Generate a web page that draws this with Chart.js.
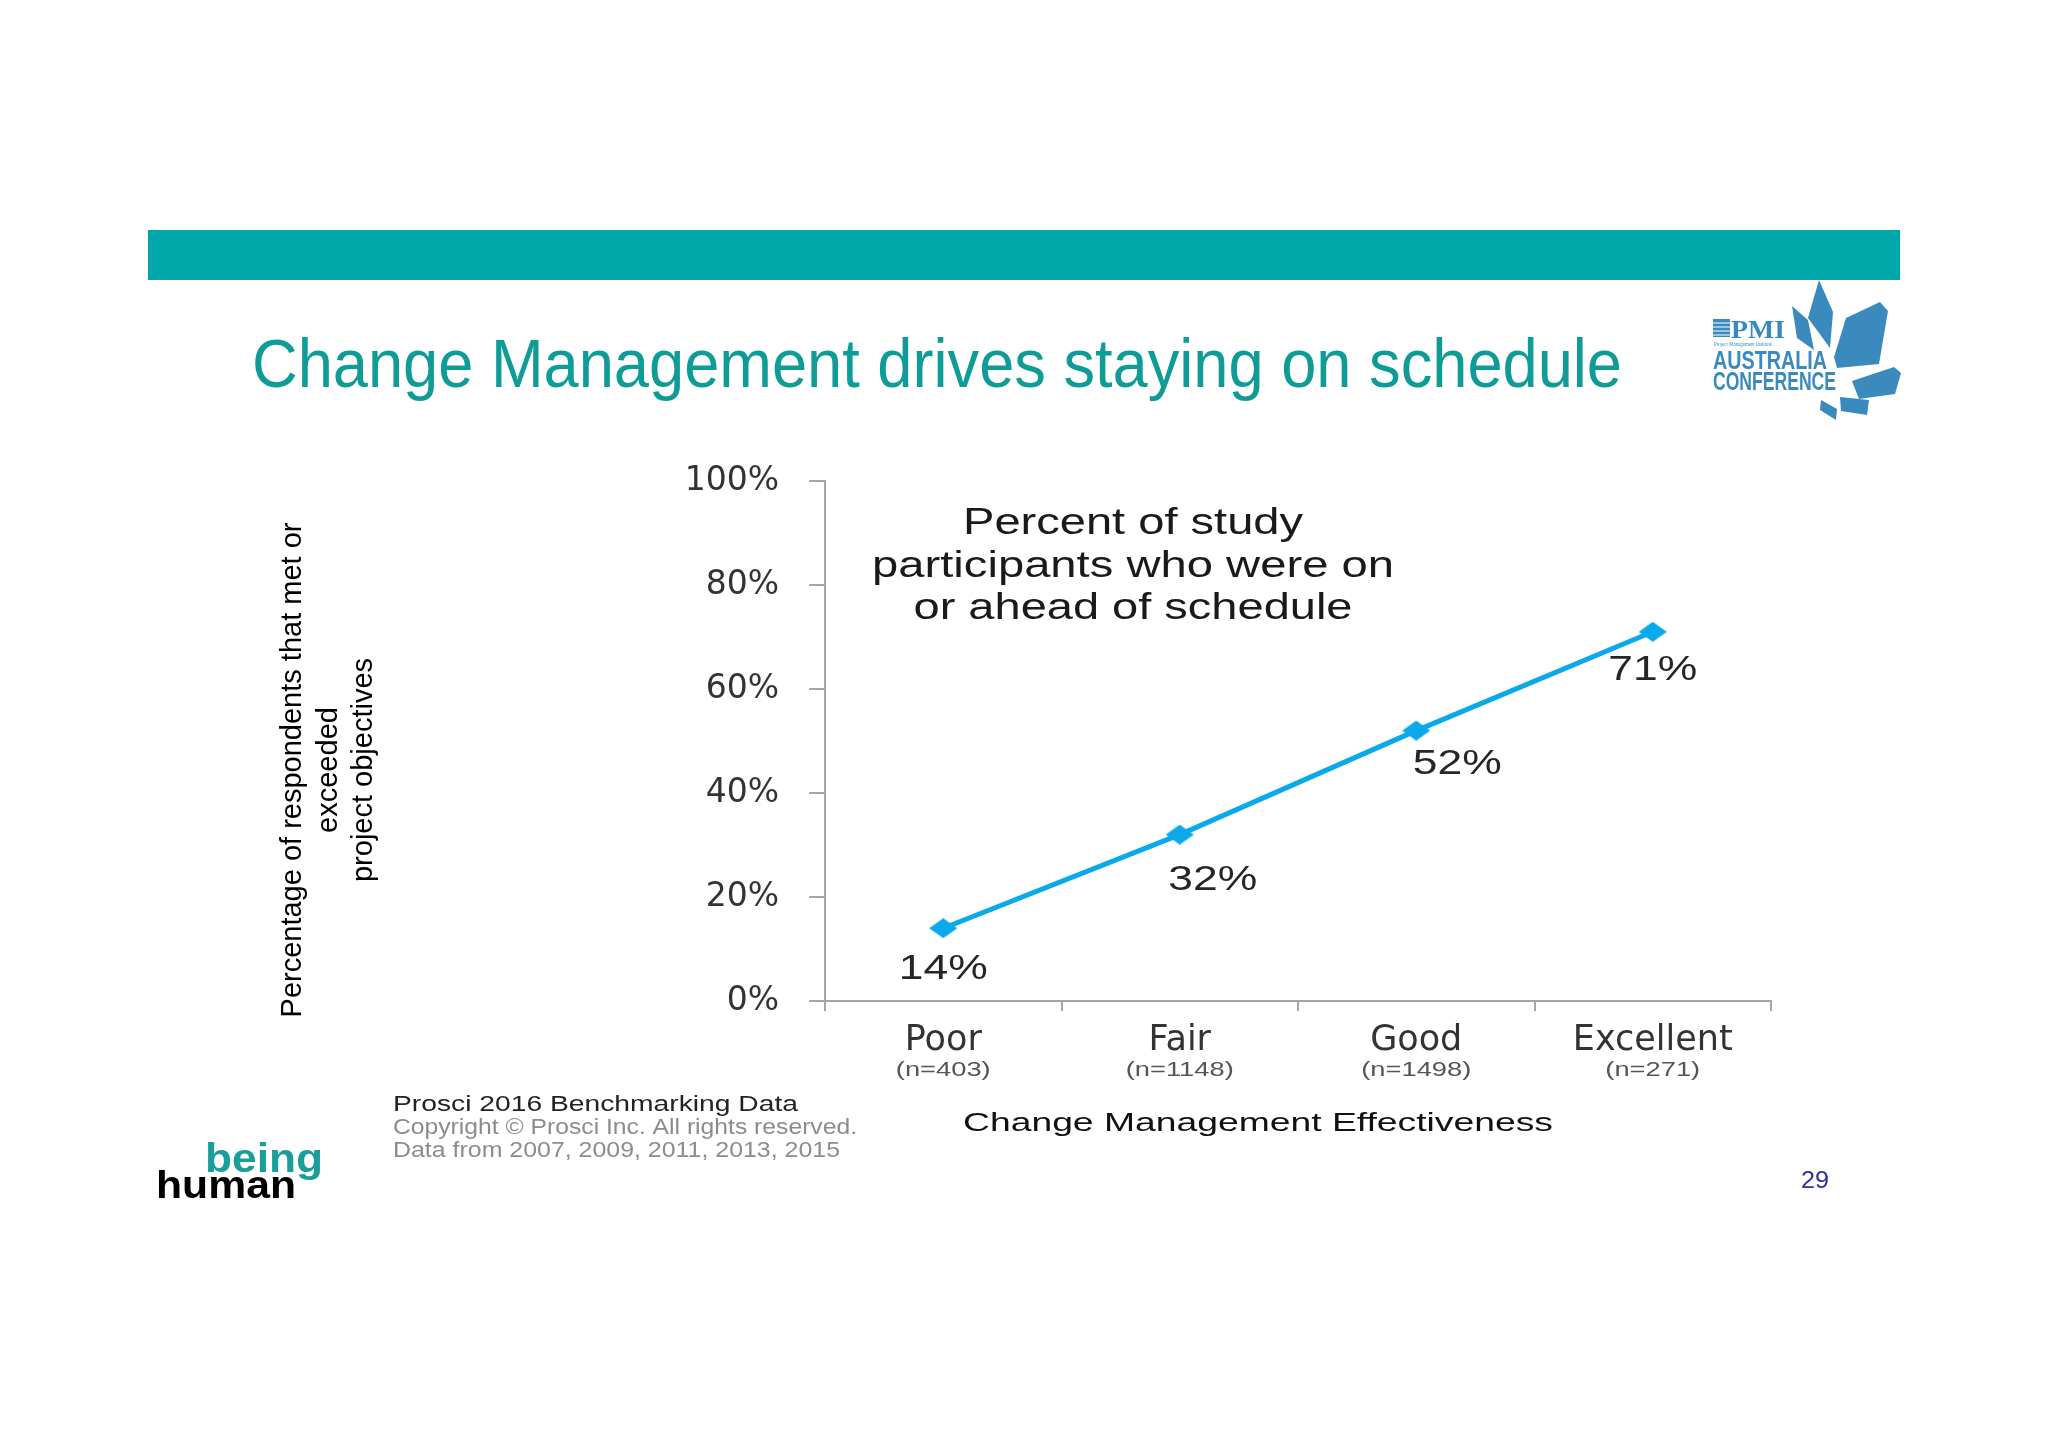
<!DOCTYPE html>
<html>
<head>
<meta charset="utf-8">
<title>Change Management drives staying on schedule</title>
<script src="https://cdn.jsdelivr.net/npm/chart.js@4.4.1/dist/chart.umd.min.js"></script>
<style>
  html, body { margin: 0; padding: 0; background: #fff; }
  canvas { display: block; }
</style>
</head>
<body>
<canvas id="chart" width="2048" height="1447"></canvas>
<script>
const categories = ["Poor", "Fair", "Good", "Excellent"];
const sampleSizes = ["(n=403)", "(n=1148)", "(n=1498)", "(n=271)"];
const onSchedule = [14, 32, 52, 71];
const yTickValues = [0, 20, 40, 60, 80, 100];

const boxLines = ["Percent of study", "participants who were on", "or ahead of schedule"];
const yTitleLines = ["Percentage of respondents that met or", "exceeded", "project objectives"];
const sourceLines = [
  "Prosci 2016 Benchmarking Data",
  "Copyright \u00A9 Prosci Inc. All rights reserved.",
  "Data from 2007, 2009, 2011, 2013, 2015"
];

// where each value label sits relative to its point (px)
const labelShift = [[0, 51], [33, 55], [41, 43], [0, 48]];

const TEAL = "#00a7a8";
const TITLE_TEAL = "#0f9c97";
const LINE = "#0aa9e9";
const AXIS = "#a6a6a6";
const LOGO = "#3b8abd";

function diamond(w, h, color) {
  const c = document.createElement("canvas");
  c.width = w;
  c.height = h;
  const g = c.getContext("2d");
  g.fillStyle = color;
  g.beginPath();
  g.moveTo(w / 2, 0);
  g.lineTo(w, h / 2);
  g.lineTo(w / 2, h);
  g.lineTo(0, h / 2);
  g.closePath();
  g.fill();
  return c;
}

// draws text, optionally squeezed/stretched to a given width
function text(ctx, str, x, y, o) {
  ctx.save();
  ctx.font = o.font;
  ctx.fillStyle = o.color || "#000";
  ctx.textBaseline = o.baseline || "alphabetic";
  ctx.textAlign = o.align || "left";
  let sx = o.sx || 1;
  if (o.width) sx = o.width / ctx.measureText(str).width;
  ctx.translate(x, y);
  if (o.rotate) ctx.rotate(o.rotate);
  ctx.scale(sx, 1);
  ctx.fillText(str, 0, 0);
  ctx.restore();
}

function poly(ctx, pts, color) {
  ctx.fillStyle = color;
  ctx.beginPath();
  pts.forEach((p, i) => (i ? ctx.lineTo(p[0], p[1]) : ctx.moveTo(p[0], p[1])));
  ctx.closePath();
  ctx.fill();
}

const slide = {
  id: "slide",
  beforeDraw(chart) {
    const ctx = chart.ctx;
    ctx.save();
    ctx.fillStyle = "#fff";
    ctx.fillRect(0, 0, chart.width, chart.height);

    ctx.fillStyle = TEAL;
    ctx.fillRect(148, 230, 1752, 50);

    text(ctx, "Change Management drives staying on schedule", 252, 387,
      { font: "68px 'Liberation Sans'", color: TITLE_TEAL, width: 1370 });

    // conference logo
    poly(ctx, [[1819, 280], [1833, 312], [1830, 348], [1808, 318]], LOGO);
    poly(ctx, [[1792, 306], [1808, 320], [1814, 350], [1797, 338]], LOGO);
    poly(ctx, [[1846, 318], [1880, 302], [1888, 311], [1879, 364], [1837, 368], [1834, 357]], LOGO);
    poly(ctx, [[1852, 381], [1894, 367], [1901, 373], [1895, 394], [1859, 399]], LOGO);
    poly(ctx, [[1840, 397], [1869, 400], [1867, 415], [1841, 411]], LOGO);
    poly(ctx, [[1821, 400], [1837, 409], [1836, 420], [1820, 410]], LOGO);
    ctx.fillStyle = LOGO;
    ctx.fillRect(1713, 319, 17, 18);
    ctx.strokeStyle = "#fff";
    ctx.lineWidth = 1;
    for (let i = 0; i < 4; i++) {
      ctx.beginPath();
      ctx.moveTo(1713, 323 + i * 4);
      ctx.lineTo(1730, 323 + i * 4);
      ctx.stroke();
    }
    text(ctx, "PMI", 1731, 338, { font: "bold 26px 'Liberation Serif'", color: LOGO, width: 54 });
    text(ctx, "Project Management Institute", 1714, 346, { font: "6px 'Liberation Serif'", color: LOGO, width: 58 });
    text(ctx, "AUSTRALIA", 1713, 369, { font: "bold 25px 'Liberation Sans'", color: LOGO, width: 114 });
    text(ctx, "CONFERENCE", 1713, 390, { font: "bold 25px 'Liberation Sans'", color: LOGO, width: 123 });

    // rotated axis caption
    const yx = [293, 329, 364];
    yTitleLines.forEach((line, i) => {
      text(ctx, line, yx[i], 770, { font: "29px 'Liberation Sans'", color: "#000",
        align: "center", baseline: "middle", rotate: -Math.PI / 2 });
    });

    // source note
    const srcColors = ["#222", "#8c8c8c", "#8c8c8c"];
    const srcWidths = [405, 464, 447];
    sourceLines.forEach((line, i) => {
      text(ctx, line, 393, 1111 + i * 23, { font: "22px 'Liberation Sans'", color: srcColors[i], width: srcWidths[i] });
    });

    text(ctx, "being", 205, 1172, { font: "bold 40px 'Liberation Sans'", color: "#1b9e9a", width: 118 });
    text(ctx, "human", 156, 1198, { font: "bold 39px 'Liberation Sans'", color: "#000", width: 140 });
    text(ctx, "29", 1815, 1188, { font: "24px 'Liberation Sans'", color: "#2e3192", align: "center", width: 28 });
    ctx.restore();
  }
};

const labels = {
  id: "labels",
  afterDraw(chart) {
    const ctx = chart.ctx;
    const area = chart.chartArea;
    const xScale = chart.scales.x;
    const pts = chart.getDatasetMeta(0).data;

    boxLines.forEach((line, i) => {
      const widths = [340, 522, 439];
      text(ctx, line, 1133, 534 + i * 42.5, { font: "36px 'Liberation Sans'", color: "#1a1a1a", align: "center", width: widths[i] });
    });

    pts.forEach((p, i) => {
      text(ctx, onSchedule[i] + "%", p.x + labelShift[i][0], p.y + labelShift[i][1],
        { font: "35px 'Liberation Sans'", color: "#262626", align: "center", sx: 1.27 });
    });

    categories.forEach((c, i) => {
      text(ctx, sampleSizes[i], xScale.getPixelForValue(i), 1076,
        { font: "21px 'Liberation Sans'", color: "#555", align: "center", sx: 1.3 });
    });

    text(ctx, "Change Management Effectiveness", area.left + 433, 1131,
      { font: "26px 'Liberation Sans'", color: "#111", align: "center", width: 590 });
  }
};

new Chart(document.getElementById("chart"), {
  type: "line",
  data: {
    labels: categories,
    datasets: [
      {
        data: onSchedule,
        borderColor: LINE,
        backgroundColor: LINE,
        borderWidth: 5,
        pointStyle: diamond(28, 20, LINE),
        tension: 0,
        fill: false
      }
    ]
  },
  options: {
    responsive: false,
    animation: false,
    devicePixelRatio: 1,
    layout: { padding: { left: 625, right: 277, top: 481, bottom: 326 } },
    plugins: {
      legend: { display: false },
      tooltip: { enabled: false }
    },
    scales: {
      x: {
        offset: true,
        grid: { offset: true, drawOnChartArea: false, tickLength: 10, color: AXIS, lineWidth: 2 },
        border: { color: AXIS, width: 2 },
        ticks: { font: { family: "DejaVu Sans", size: 35 }, color: "#333", padding: 9, maxRotation: 0 },
        afterFit: s => {
          s.height = 120;
          s.paddingLeft = 0;
          s.paddingRight = 0;
        }
      },
      y: {
        min: 0,
        max: 100,
        afterBuildTicks: s => {
          s.ticks = yTickValues.map(v => ({ value: v }));
        },
        grid: { drawOnChartArea: false, tickLength: 16, color: AXIS, lineWidth: 2 },
        border: { color: AXIS, width: 2 },
        ticks: {
          font: { family: "DejaVu Sans", size: 33 },
          color: "#333",
          padding: 30,
          callback: v => v + "%"
        },
        afterFit: s => {
          s.width = 200;
          s.paddingTop = 0;
          s.paddingBottom = 0;
        }
      }
    }
  },
  plugins: [slide, labels]
});
</script>
</body>
</html>
